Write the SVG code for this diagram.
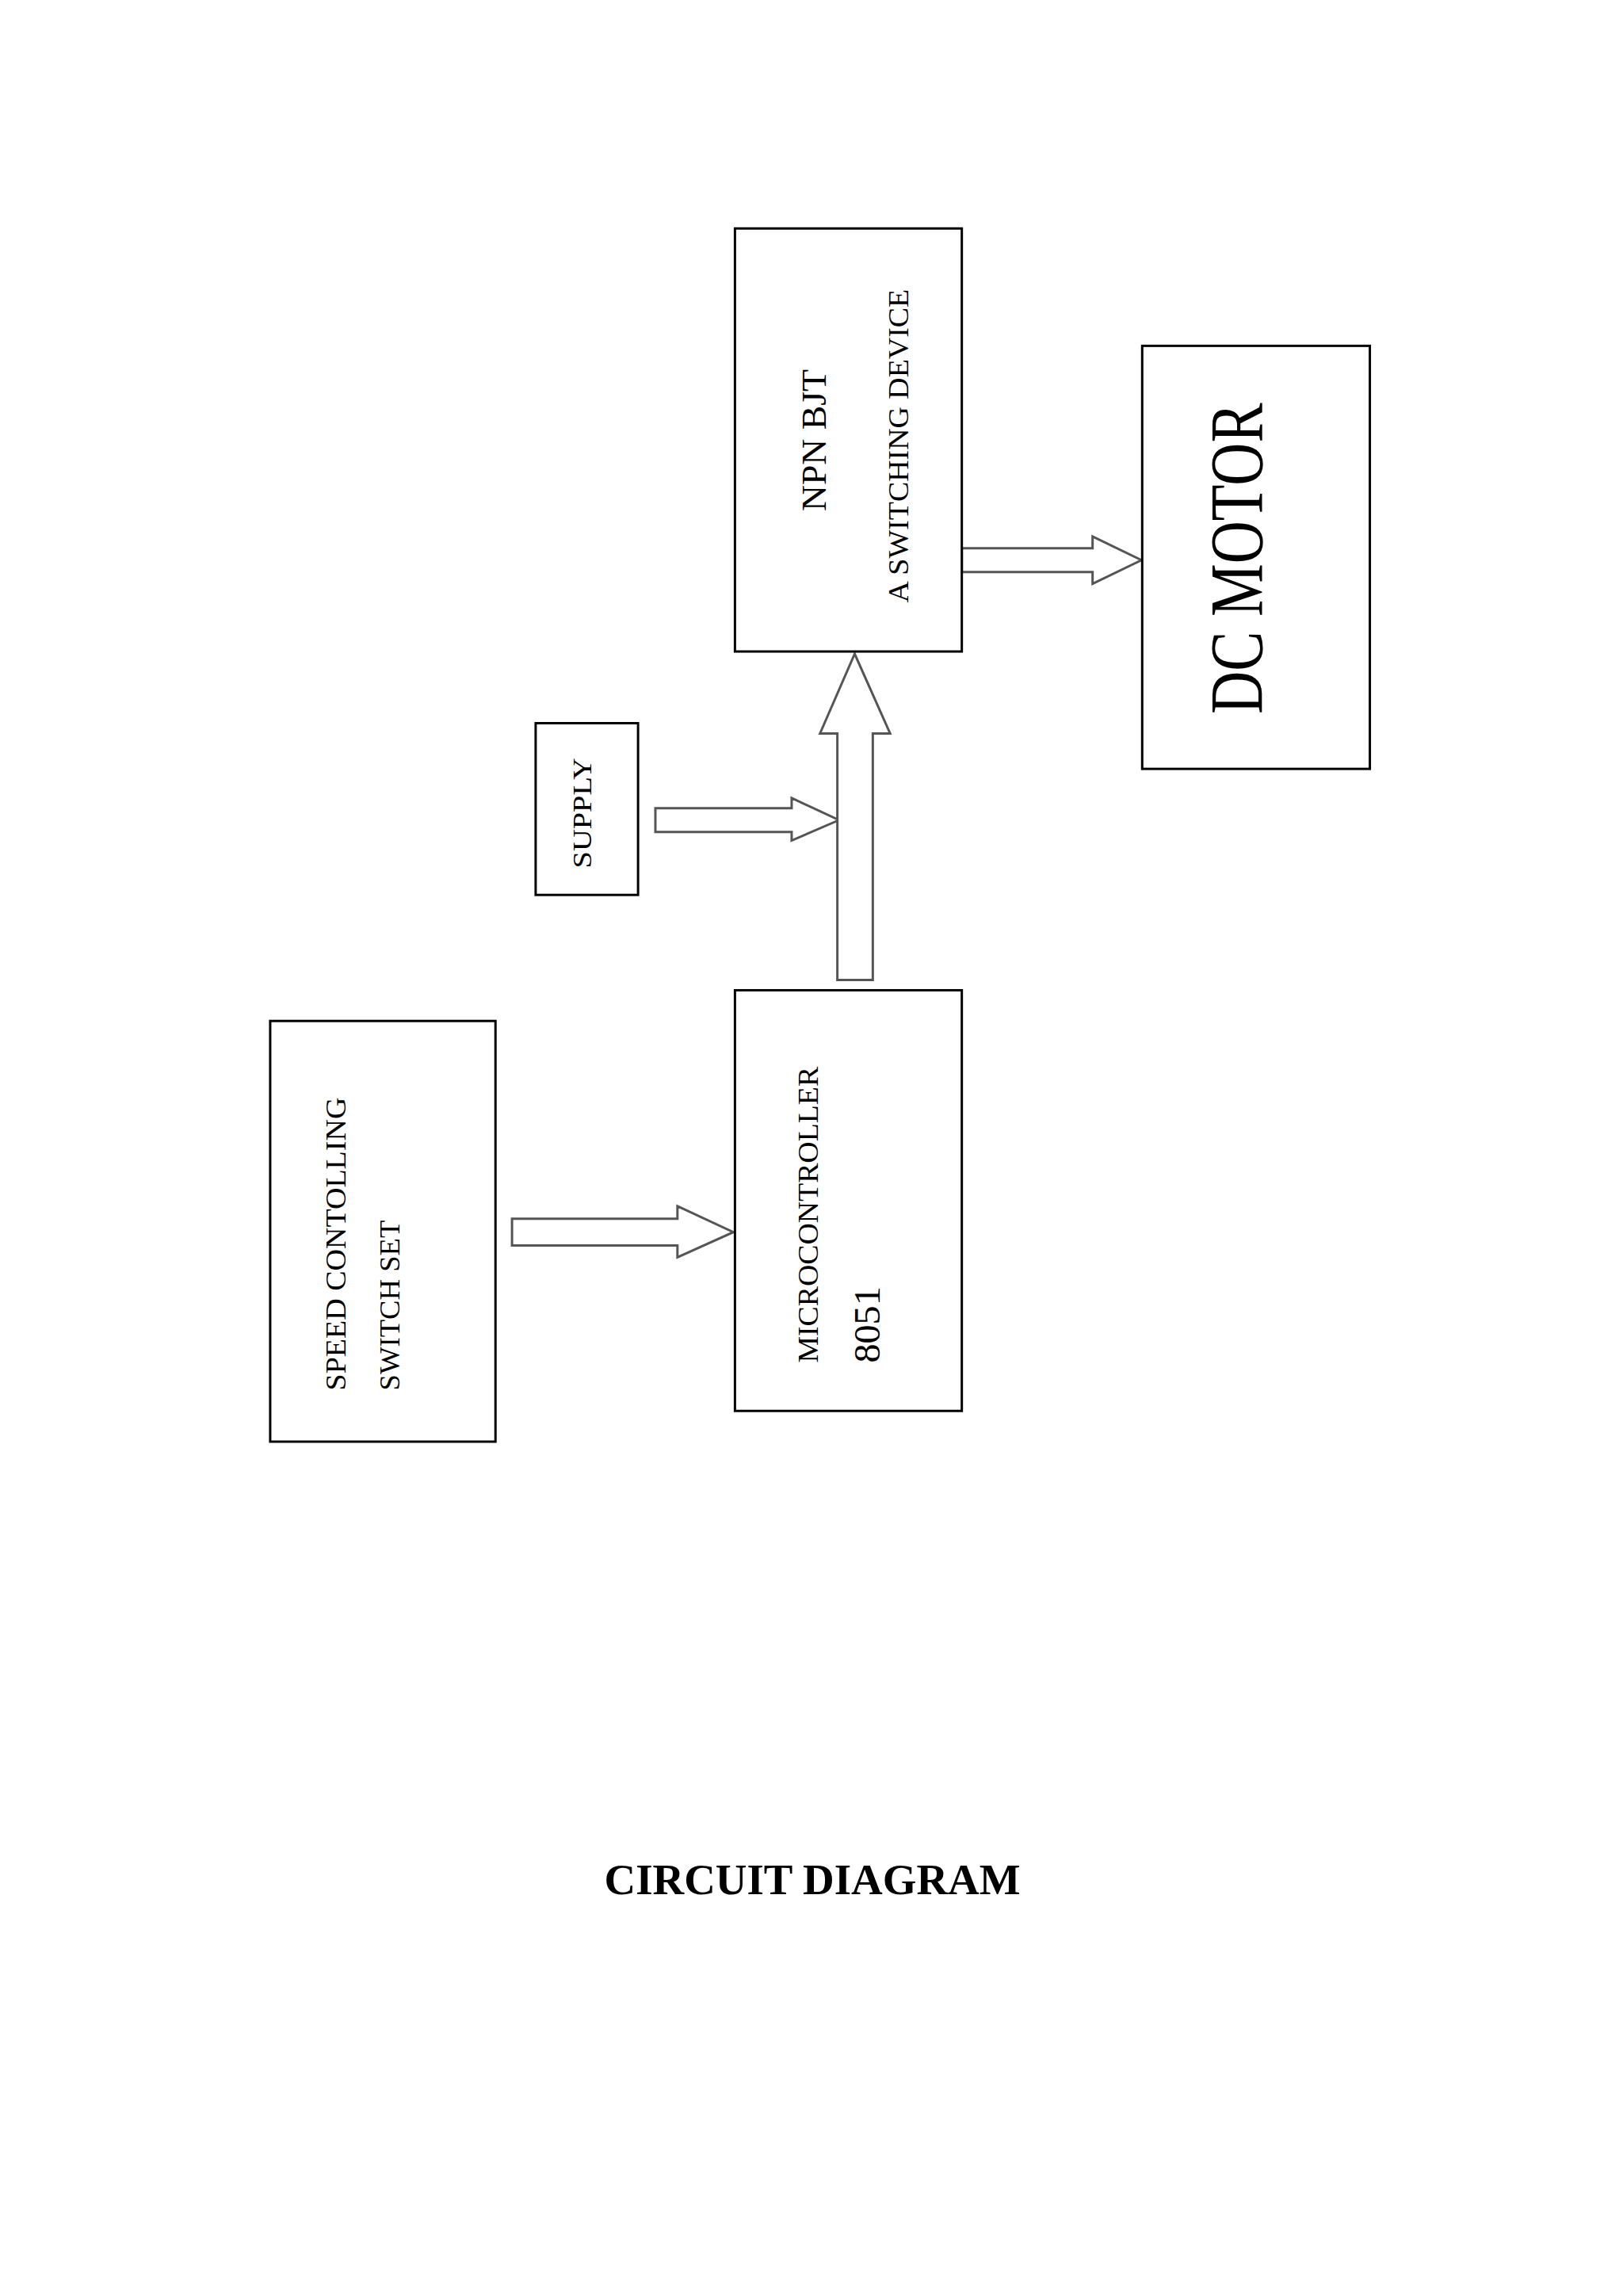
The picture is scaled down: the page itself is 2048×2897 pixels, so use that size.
<svg xmlns="http://www.w3.org/2000/svg" width="2048" height="2897" viewBox="0 0 2048 2897">
<style>
.box{fill:#fff;stroke:#000;stroke-width:3}
.arr{fill:#fff;stroke:#555;stroke-width:3}
text{font-family:"Liberation Serif",serif;fill:#000}
</style>
<rect width="2048" height="2897" fill="#fff"/>
<g transform="scale(0.994)">
<g id="connectors">
<polygon class="arr" points="1221,696 1387,696 1387,681 1449,711 1387,741 1387,726 1221,726"/>
<polygon class="arr" points="832,1026 1005,1026 1005,1013 1065,1041 1005,1067 1005,1056 832,1056"/>
<polygon class="arr" points="1063,1244 1063,931 1041,931 1085,830 1130,931 1108,931 1108,1244"/>
<polygon class="arr" points="650,1547 860,1547 860,1531 931,1564 860,1596 860,1581 650,1581"/>
</g>
<g id="npn">
<rect class="box" x="933" y="290" width="288" height="537"/>
<text transform="translate(1048,559) rotate(-90)" font-size="44" text-anchor="middle" textLength="180" lengthAdjust="spacingAndGlyphs">NPN BJT</text>
<text transform="translate(1153,566) rotate(-90)" font-size="36" text-anchor="middle" textLength="398" lengthAdjust="spacingAndGlyphs">A SWITCHING DEVICE</text>
</g>
<g id="motor">
<rect class="box" x="1450" y="439" width="289" height="537"/>
<text transform="translate(1603,709) rotate(-90)" font-size="96" text-anchor="middle" textLength="395" lengthAdjust="spacingAndGlyphs">DC MOTOR</text>
</g>
<g id="supply">
<rect class="box" x="680" y="918" width="130" height="218"/>
<text transform="translate(751,1032) rotate(-90)" font-size="34" text-anchor="middle" textLength="140" lengthAdjust="spacingAndGlyphs">SUPPLY</text>
</g>
<g id="speed">
<rect class="box" x="343" y="1296" width="286" height="534"/>
<text transform="translate(439,1765) rotate(-90)" font-size="36" textLength="372" lengthAdjust="spacingAndGlyphs">SPEED CONTOLLING</text>
<text transform="translate(507,1765) rotate(-90)" font-size="36" textLength="216" lengthAdjust="spacingAndGlyphs">SWITCH SET</text>
</g>
<g id="micro">
<rect class="box" x="933" y="1257" width="288" height="534"/>
<text transform="translate(1038,1730) rotate(-90)" font-size="36" textLength="376" lengthAdjust="spacingAndGlyphs">MICROCONTROLLER</text>
<text transform="translate(1117,1730) rotate(-90)" font-size="46" textLength="97" lengthAdjust="spacingAndGlyphs">8051</text>
</g>
</g>
<text x="1025" y="2390" font-size="54" font-weight="bold" text-anchor="middle" textLength="525" lengthAdjust="spacingAndGlyphs">CIRCUIT DIAGRAM</text>
</svg>
